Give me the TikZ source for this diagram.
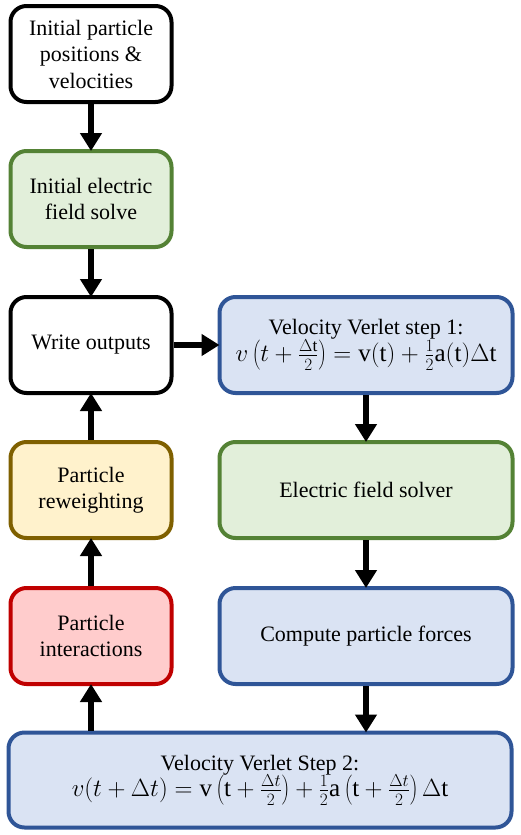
\documentclass[tikz,border=0pt]{standalone}
\usepackage{fontspec}
\setmainfont{Liberation Serif}
\usetikzlibrary{arrows.meta}
\definecolor{gfill}{HTML}{E2EFDA}\definecolor{gdraw}{HTML}{548235}
\definecolor{bfill}{HTML}{DAE3F3}\definecolor{bdraw}{HTML}{2F5597}
\definecolor{yfill}{HTML}{FFF2CC}\definecolor{ydraw}{HTML}{7F6000}
\definecolor{rfill}{HTML}{FFCCCC}\definecolor{rdraw}{HTML}{C00000}
\newcommand{\mathline}{\fontsize{25}{28}\selectfont}
\tikzset{
  box/.style={draw, line width=4pt, rounded corners=16pt, align=center, inner sep=0pt,
    font=\fontsize{22}{26.5}\selectfont},
  lbox/.style={box, minimum width=161pt, minimum height=96pt},
  rbox/.style={box, minimum width=293pt, minimum height=96pt},
  flow/.style={line width=6pt, -{Triangle[width=21pt,length=18pt]}, shorten >=-2pt}
}
\begin{document}
\begin{tikzpicture}[x=1pt,y=-1pt]
\useasboundingbox (0,0) rectangle (520,835);
\node[lbox, fill=white] (init) at (91,54) {Initial particle\\positions \&\\velocities};
\node[lbox, fill=gfill, draw=gdraw] (ief) at (91,199) {Initial electric\\field solve};
\node[lbox, fill=white] (wo) at (91,345) {Write outputs};
\node[lbox, fill=yfill, draw=ydraw] (rw) at (91,490) {Particle\\reweighting};
\node[lbox, fill=rfill, draw=rdraw] (pi) at (91,636) {Particle\\interactions};
\node[rbox, fill=bfill, draw=bdraw] (vv1) at (366,345) {Velocity Verlet step 1:\\[0pt]
  {\mathline$v\left(t+\frac{\Delta\mathrm{t}}{2}\right)=\mathrm{v(t)}+\frac{1}{2}\mathrm{a(t)}\Delta\mathrm{t}$}};
\node[rbox, fill=gfill, draw=gdraw] (efs) at (366,490) {Electric field solver};
\node[rbox, fill=bfill, draw=bdraw] (cpf) at (366,636) {Compute particle forces};
\node[box, fill=bfill, draw=bdraw, minimum width=503pt, minimum height=95pt] (vv2) at (260,780)
  {Velocity Verlet Step 2:\\[0pt]
  {\mathline$v(t+\Delta t)=\mathrm{v}\left(\mathrm{t}+\frac{\Delta t}{2}\right)+\frac{1}{2}\mathrm{a}\left(\mathrm{t}+\frac{\Delta t}{2}\right)\Delta\mathrm{t}$}};
\draw[flow] (init) -- (ief);
\draw[flow] (ief) -- (wo);
\draw[flow] (wo) -- (vv1);
\draw[flow] (vv1) -- (efs);
\draw[flow] (efs) -- (cpf);
\draw[flow] (cpf) -- (cpf |- vv2.north);
\draw[flow] (pi |- vv2.north) -- (pi);
\draw[flow] (pi) -- (rw);
\draw[flow] (rw) -- (wo);
\end{tikzpicture}
\end{document}
